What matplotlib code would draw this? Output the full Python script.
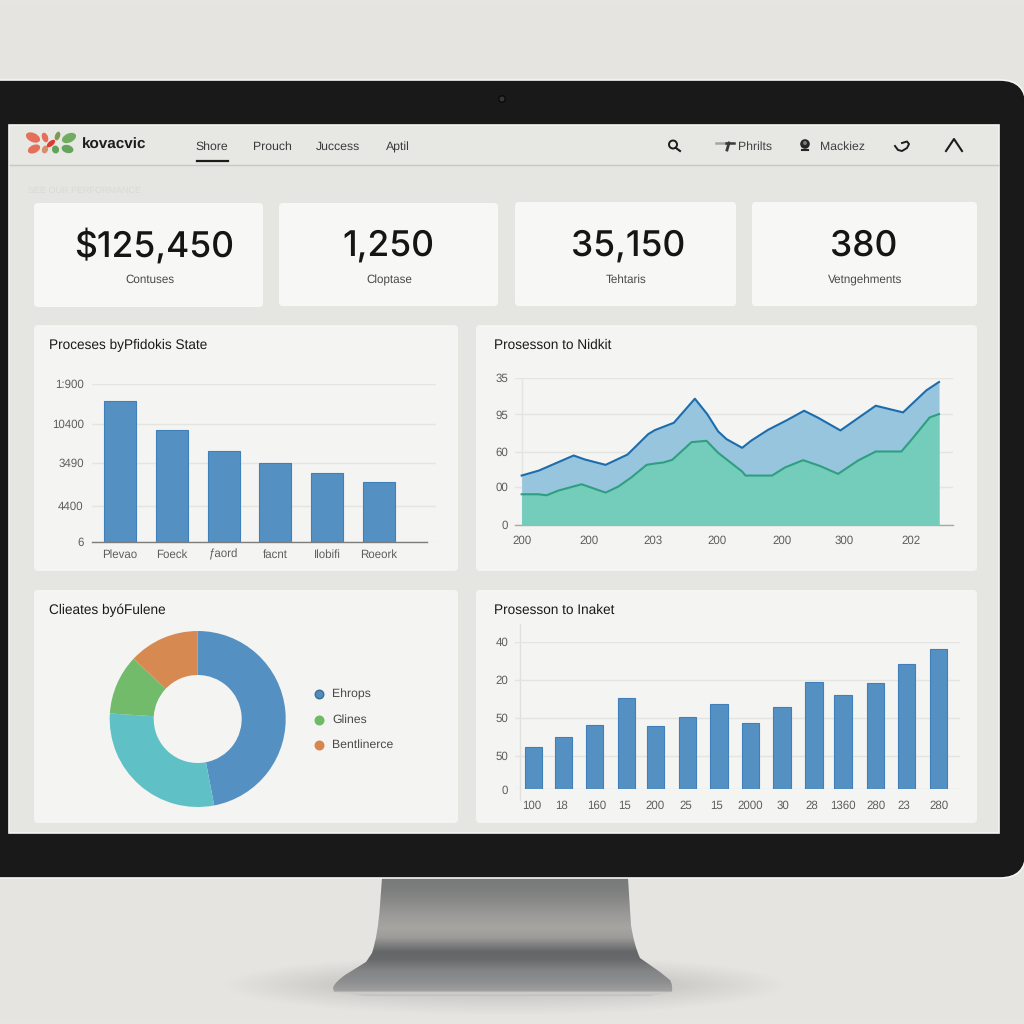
import numpy as np
import matplotlib
matplotlib.use('Agg')
import matplotlib.pyplot as plt
from matplotlib.patches import FancyBboxPatch, PathPatch, Ellipse, Circle, Rectangle
from matplotlib.path import Path

plt.rcParams['font.family'] = ['Liberation Sans', 'DejaVu Sans']
plt.rcParams['text.hinting'] = 'none'

# KPI cards
kpi_values = ['$125,450', '1,250', '35,150', '380']
kpi_labels = ['Contuses', 'Cloptase', 'Tehtaris', 'Vetngehments']

# bar chart, top left
state_names = ['Plevao', 'Foeck', 'ƒaord', 'facnt', 'Ilobifi', 'Roeork']
state_values = [14100, 11200, 9100, 7900, 6900, 6000]
state_ticks = [0, 3600, 7900, 11800, 15800]
state_tick_labels = ['6', '4400', '3490', '10400', '1:900']

# area chart, top right
blue_x = [0, 52, 75, 156, 190, 252, 318, 380, 400, 457, 520, 557, 590, 615, 662, 690, 740,
          795, 848, 890, 957, 1010, 1063, 1145, 1215, 1253]
blue_y = [148, 163, 173, 208, 196, 180, 211, 272, 284, 306, 378, 332, 280, 257, 231, 253, 285,
          313, 342, 321, 283, 320, 357, 337, 403, 428]
green_x = [0, 50, 75, 110, 180, 252, 290, 330, 375, 400, 425, 452, 510, 555, 590, 662, 672, 752,
           790, 845, 895, 950, 1010, 1063, 1140, 1170, 1225, 1253]
green_y = [92, 92, 89, 103, 122, 97, 115, 143, 180, 184, 187, 195, 248, 252, 216, 160, 148, 148,
           172, 194, 177, 153, 193, 220, 220, 255, 322, 332]
area_ticks = [0, 115, 219, 332, 440]
area_tick_labels = ['0', '00', '60', '95', '35']
area_x_ticks = [0, 203, 393, 585, 782, 968, 1168]
area_x_labels = ['200', '200', '203', '200', '200', '300', '202']

# donut, bottom left
donut_names = ['Ehrops', 'Glines', 'Bentlinerce']
donut_values = [47, 29, 11, 13]
donut_colors = ['#5590c3', '#5fc1c6', '#72bb6a', '#d68a52']
legend_colors = ['#4f8cc0', '#6dbb64', '#d9854f']

# bar chart, bottom right
month_pos = [175, 265, 359, 454, 542, 637, 732, 827, 921, 1017, 1104, 1201, 1295, 1390]
month_values = [126, 158, 192, 275, 189, 217, 256, 198, 248, 321, 284, 320, 377, 422]
month_labels = ['100', '18', '160', '15', '200', '25', '15', '2000', '30', '28', '1360', '280', '23', '280']
month_label_pos = [170, 260, 364, 450, 541, 631, 725, 825, 925, 1010, 1103, 1203, 1287, 1392]
month_ticks = [0, 100, 215, 328, 443]
month_tick_labels = ['0', '50', '50', '20', '40']

# stand shading from top to bottom
stand_stops = [0, 0.12, 0.3, 0.42, 0.5, 0.62, 0.68, 0.78, 0.88, 0.95, 0.965, 1]
stand_shades = ['#77797a', '#7f8080', '#9a9997', '#a6a5a2', '#9c9b99', '#646668', '#67696b',
                '#828485', '#8f9090', '#a0a0a0', '#d0d0ce', '#bcbcba']

BAR = '#5590c3'
BAR_EDGE = '#3f80ba'
GRID = '#e4e4e1'
TICK = '#5e5e5c'

fig = plt.figure(figsize=(10.24, 10.24), dpi=100)

# whole picture in pixel units, for the monitor and the page around the charts
bg = fig.add_axes([0, 0, 1, 1], zorder=0)
bg.axis('off')


def chart_axes(left, top, right, bottom):
    ax = fig.add_axes([left / 1024, 1 - bottom / 1024, (right - left) / 1024, (bottom - top) / 1024], zorder=2)
    ax.patch.set_alpha(0)
    for s in ax.spines.values():
        s.set_visible(False)
    ax.tick_params(length=0, labelsize=8.3, labelcolor=TICK)
    ax.grid(axis='y', color=GRID, linewidth=1)
    ax.set_axisbelow(True)
    return ax


def card(x0, y0, x1, y1, color):
    bg.add_patch(FancyBboxPatch((x0 + 4, y0 + 4), x1 - x0 - 8, y1 - y0 - 8, boxstyle='round,pad=4,rounding_size=4',
                                fc=color, ec='none', zorder=3))


bg.imshow(np.linspace(0, 1, 256).reshape(-1, 1), extent=(0, 1024, 1024, 0), aspect='auto',
          cmap=matplotlib.colors.LinearSegmentedColormap.from_list('wall', ['#e6e5e2', '#e3e2df', '#e6e5e2']), zorder=0)

# soft shadow below the stand
for i in range(24):
    w = 560 - i * 9
    bg.add_patch(Ellipse((505, 985), w, 60 - i * 1.6, fc='#8a8680', alpha=0.006, ec='none', zorder=1))

# stand
verts = [(382, 878), (380, 905), (378, 935), (372, 953), (366, 962), (345, 975), (334, 983),
         (333, 988), (334, 992), (365, 996), (650, 996), (672, 992), (673, 985), (670, 980), (660, 972), (640, 958),
         (634, 945), (631, 925), (628, 878), (382, 878)]
codes = [Path.MOVETO, Path.LINETO, Path.CURVE3, Path.CURVE3, Path.LINETO, Path.LINETO, Path.CURVE3, Path.CURVE3,
         Path.LINETO, Path.LINETO, Path.LINETO, Path.LINETO, Path.CURVE3, Path.CURVE3, Path.LINETO, Path.LINETO,
         Path.CURVE3, Path.CURVE3, Path.LINETO, Path.CLOSEPOLY]
stand = PathPatch(Path(verts, codes), fc='none', ec='none', zorder=2)
bg.add_patch(stand)
cm = matplotlib.colors.LinearSegmentedColormap.from_list('stand', list(zip(stand_stops, stand_shades)))
im = bg.imshow(np.linspace(0, 1, 256).reshape(-1, 1), extent=(330, 676, 997, 878), aspect='auto', cmap=cm, zorder=2)
im.set_clip_path(stand)
bg.set_xlim(0, 1024)
bg.set_ylim(1024, 0)

# monitor
bg.add_patch(FancyBboxPatch((-12, 106), 1012, 746, boxstyle='round,pad=26,rounding_size=26',
                            fc='#191919', ec='#f6f6f4', lw=1.2, zorder=3))
bg.add_patch(Circle((502, 99), 3.2, fc='#33363a', ec='#0a0a0a', lw=1, zorder=4))
bg.add_patch(Rectangle((9, 125), 990, 708, fc='#e5e5e2', ec='#f4f4f2', lw=1.2, zorder=3))
bg.add_patch(Rectangle((10, 126), 988, 39, fc='#e7e7e4', ec='none', zorder=3))
bg.plot([10, 998], [165, 165], color='#c8c8c5', lw=1, zorder=3)

# logo
for (x, y, w, h, ang, c) in [(33, 137.5, 15, 9, 25, '#e4705a'), (34, 149, 13, 8, -25, '#e4705a'),
                             (45, 137.5, 6, 10, -20, '#e4705a'), (45, 149.5, 6, 8, 20, '#d98d68'),
                             (51, 143.5, 10, 5, -40, '#dd3a32'), (57.5, 136, 5, 9, 20, '#7d9a55'),
                             (69, 138, 15, 9, -25, '#72ac62'), (67.5, 149, 12, 8, 15, '#66a35c'),
                             (55.5, 149.5, 7, 8, -20, '#5fa456')]:
    bg.add_patch(Ellipse((x, y), w, h, angle=ang, fc=c, ec='none', zorder=4))
bg.text(82, 145, 'kovacvic', fontsize=11, fontweight='bold', color='#1c1c1c', va='center', zorder=4)

# nav
for x, name in zip([212, 272, 338, 398], ['Shore', 'Prouch', 'Juccess', 'Aptil']):
    bg.text(x, 147, name, fontsize=8.8, color='#3a3a3a', ha='center', va='center', zorder=4)
bg.plot([197, 228], [161, 161], color='#1a1a1a', lw=1.6, zorder=4)

bg.add_patch(Circle((673, 144.5), 4, fc='none', ec='#1c1c1c', lw=1.4, zorder=4))
bg.plot([676, 680], [148, 151], color='#1c1c1c', lw=1.5, zorder=4)
bg.plot([716, 726], [142.5, 142.5], color='#a5a5a3', lw=1.8, zorder=4)
bg.plot([726, 734], [142.5, 142.5], color='#3a3a3a', lw=1.8, zorder=4)
bg.plot([729, 727], [143, 150], color='#3a3a3a', lw=2, zorder=4)
bg.text(755, 147, 'Phrilts', fontsize=8.8, color='#404040', ha='center', va='center', zorder=4)
bg.add_patch(Circle((805, 144), 4.8, fc='#262626', ec='none', zorder=4))
bg.add_patch(Circle((805, 143), 2, fc='#7a7a78', ec='none', zorder=4))
bg.plot([802, 808], [150, 150], color='#262626', lw=1.5, zorder=4)
bg.text(842, 147, 'Mackiez', fontsize=8.8, color='#404040', ha='center', va='center', zorder=4)
bg.plot([895, 898, 902, 907, 909, 907, 902], [146, 150, 151, 148, 144, 141.5, 143], color='#1c1c1c', lw=1.4, zorder=4)
bg.plot([946, 954, 962], [151, 139, 151], color='#1c1c1c', lw=1.5, zorder=4)

# blurred line above the cards
bg.text(85, 191, 'SEE OUR PERFORMANCE', fontsize=6.5, color='#d9d9d6', ha='center', va='center', zorder=4)

# KPI cards
kpi_boxes = [(34, 203, 263, 307), (279, 203, 498, 306), (515, 202, 736, 306), (752, 202, 977, 306)]
kpi_centers = [154, 388, 628, 864]
for box, cx, value, label in zip(kpi_boxes, kpi_centers, kpi_values, kpi_labels):
    card(*box, '#f7f7f5')
    bg.text(cx, 246, value, fontsize=25.5, fontfamily='Inter', fontweight='medium', color='#151515',
            ha='center', va='center', zorder=4)
    bg.text((box[0] + box[2]) / 2 + 1, 280, label, fontsize=8.4, color='#4a4a4a', ha='center', va='center', zorder=4)

# chart cards
for box in [(34, 325, 458, 571), (476, 325, 977, 571), (34, 590, 458, 823), (476, 590, 977, 823)]:
    card(*box, '#f4f4f2')
for x, y, title in [(49, 345, 'Proceses byPfidokis State'), (494, 345, 'Prosesson to Nidkit'),
                    (49, 610.5, 'Clieates by\u00f3Fulene'), (494, 610.5, 'Prosesson to Inaket')]:
    bg.text(x, y, title, fontsize=9.8, color='#1a1a1a', va='center', zorder=4)

# top left bars
ax1 = chart_axes(92, 384, 436, 542)
ax1.bar(range(len(state_values)), state_values, width=0.62, color=BAR, edgecolor=BAR_EDGE, linewidth=0.8, zorder=3)
ax1.set_xlim(-0.54, 6.1)
ax1.set_ylim(0, 15800)
ax1.set_xticks(range(len(state_names)), state_names)
ax1.set_yticks(state_ticks, state_tick_labels)
ax1.tick_params(axis='y', pad=6)
ax1.tick_params(axis='x', pad=5)
ax1.axhline(0, xmax=0.975, color='#7c7c7a', lw=1, zorder=4, clip_on=False)

# top right areas
ax2 = chart_axes(515, 378, 953, 525)
ax2.fill_between(blue_x, blue_y, color='#98c5de', lw=0, zorder=2)
ax2.fill_between(green_x, green_y, color='#74ccbb', lw=0, zorder=3)
ax2.plot(blue_x, blue_y, color='#1c6cac', lw=1.5, zorder=4)
ax2.plot(green_x, green_y, color='#2e9f80', lw=1.5, zorder=4)
ax2.set_xlim(-20, 1295)
ax2.set_ylim(0, 440)
ax2.set_xticks(area_x_ticks, area_x_labels)
ax2.set_yticks(area_ticks, area_tick_labels)
ax2.tick_params(axis='y', pad=5)
ax2.tick_params(axis='x', pad=7)
ax2.axvline(0, color=GRID, lw=1, zorder=1)
ax2.axhline(0, color='#a8a8a5', lw=1, zorder=1, clip_on=False)

# donut
ax3 = fig.add_axes([(197.7 - 90) / 1024, 1 - (719 + 90) / 1024, 180 / 1024, 180 / 1024], zorder=2)
ax3.pie(donut_values, colors=donut_colors, startangle=90, counterclock=False, radius=88 / 90,
        wedgeprops=dict(width=44 / 90, edgecolor='none'))
ax3.set_xlim(-1, 1)
ax3.set_ylim(-1, 1)
for y, c, name in zip([694, 719.5, 745], legend_colors, donut_names):
    bg.scatter([319], [y], s=38, color=c, edgecolor='#3f6f8f' if c == '#4f8cc0' else c, linewidth=1, zorder=4)
    bg.text(332, y, name, fontsize=8.8, color='#4a4a4a', va='center', zorder=4)

# bottom right bars
ax4 = chart_axes(515, 641.7, 960, 789.3)
ax4.bar(month_pos, month_values, width=52, color=BAR, edgecolor=BAR_EDGE, linewidth=0.8, zorder=3)
ax4.set_xlim(120, 1455)
ax4.set_ylim(0, 443)
ax4.set_xticks(month_label_pos, month_labels)
ax4.set_yticks(month_ticks, month_tick_labels)
ax4.tick_params(axis='y', pad=5)
ax4.tick_params(axis='x', pad=8)
bg.plot([520, 520], [624, 800], color='#e0e0dd', lw=1, zorder=4)

fig.savefig('out.png', dpi=100)
